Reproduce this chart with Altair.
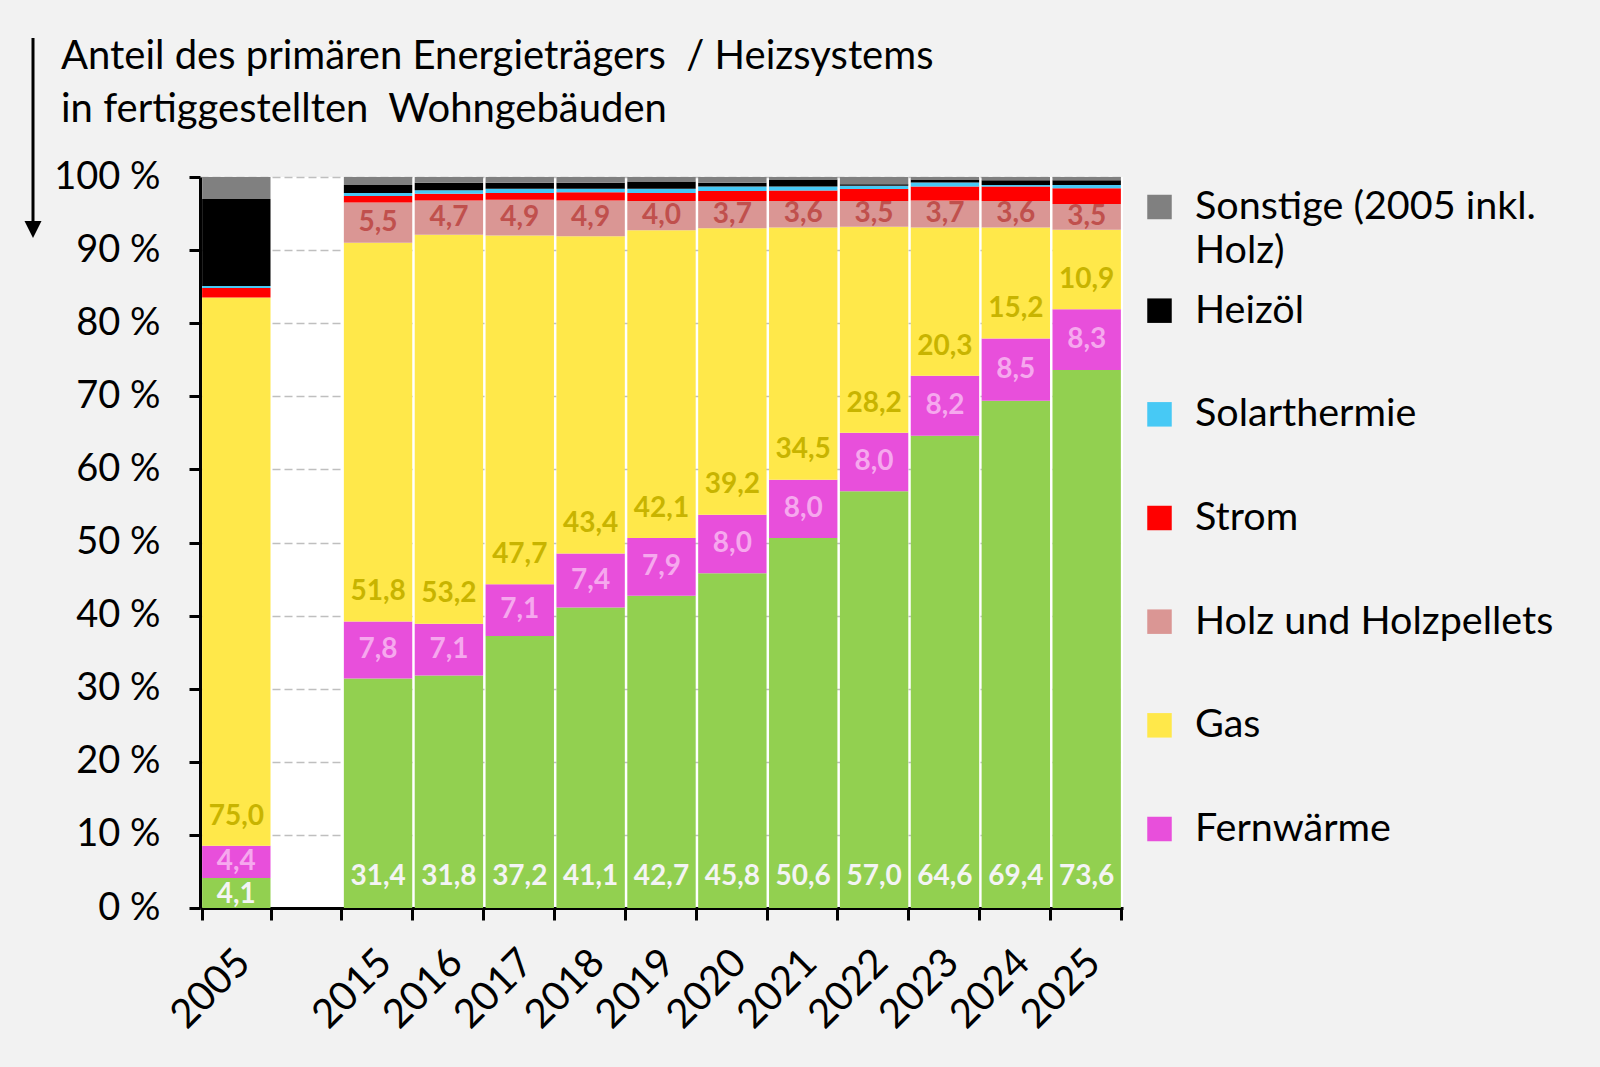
import altair as alt
import pandas as pd

# Categories on the x axis (the blank slot separates 2005 from the series from 2015)
years = ["2005", " ", "2015", "2016", "2017", "2018", "2019", "2020",
         "2021", "2022", "2023", "2024", "2025"]
bar_years = ["2005", "2015", "2016", "2017", "2018", "2019", "2020",
             "2021", "2022", "2023", "2024", "2025"]

# Stack order from bottom to top
carriers = ["Wärmepumpe", "Fernwärme", "Gas", "Holz und Holzpellets", "Strom",
            "Solarthermie", "Heizöl", "Sonstige (2005 inkl. Holz)"]
palette = ["#92d050", "#e84fdb", "#ffe84a", "#da9694", "#ff0000",
           "#47c9f5", "#000000", "#808080"]

# Shares in percent per year
waermepumpe = [4.1, 31.4, 31.8, 37.2, 41.1, 42.7, 45.8, 50.6, 57.0, 64.6, 69.4, 73.6]
fernwaerme = [4.4, 7.8, 7.1, 7.1, 7.4, 7.9, 8.0, 8.0, 8.0, 8.2, 8.5, 8.3]
gas = [75.0, 51.8, 53.2, 47.7, 43.4, 42.1, 39.2, 34.5, 28.2, 20.3, 15.2, 10.9]
holz = [0.0, 5.5, 4.7, 4.9, 4.9, 4.0, 3.7, 3.6, 3.5, 3.7, 3.6, 3.5]
strom = [1.3, 0.9, 0.9, 0.9, 1.1, 1.1, 1.4, 1.45, 1.65, 1.9, 2.0, 2.15]
solarthermie = [0.3, 0.4, 0.5, 0.6, 0.5, 0.6, 0.6, 0.55, 0.45, 0.55, 0.2, 0.45]
heizoel = [11.9, 1.1, 1.0, 0.8, 0.8, 1.0, 0.5, 0.95, 0.2, 0.4, 0.65, 0.65]
sonstige = [3.0, 1.1, 0.8, 0.8, 0.8, 0.6, 0.8, 0.35, 1.0, 0.35, 0.45, 0.45]

series = [waermepumpe, fernwaerme, gas, holz, strom, solarthermie, heizoel, sonstige]

title_lines = ["Anteil des primären Energieträgers \u00a0/ Heizsystems",
               "in fertiggestellten \u00a0Wohngebäuden"]

legend_order = ["Sonstige (2005 inkl. Holz)", "Heizöl", "Solarthermie", "Strom",
                "Holz und Holzpellets", "Gas", "Fernwärme"]
legend_line1 = ["Sonstige (2005 inkl.", "Heizöl", "Solarthermie", "Strom",
                "Holz und Holzpellets", "Gas", "Fernwärme"]
legend_line2 = ["Holz)", "", "", "", "", "", ""]

FONT = "Lato"


def de(v):
    return f"{v:.1f}".replace(".", ",")


# Long table for the stacked bars
rows = []
for k, (name, vals) in enumerate(zip(carriers, series)):
    for yr, v in zip(bar_years, vals):
        if v > 0:
            rows.append({"year": yr, "carrier": name, "value": v, "order": k})
bars_df = pd.DataFrame(rows)

# Value labels placed inside their segments
lab_rows = []
for i, yr in enumerate(bar_years):
    g, p, ga, h = waermepumpe[i], fernwaerme[i], gas[i], holz[i]
    lab_rows.append({"year": yr, "kind": "wp", "y": min(g * 0.45, 4.2), "label": de(g)})
    lab_rows.append({"year": yr, "kind": "fw", "y": g + p / 2, "label": de(p)})
    lab_rows.append({"year": yr, "kind": "gas", "y": g + p + 4.0, "label": de(ga)})
    if h > 0:
        lab_rows.append({"year": yr, "kind": "holz", "y": g + p + ga + h / 2, "label": de(h)})
lab_df = pd.DataFrame(lab_rows)

xscale = alt.Scale(domain=years, paddingInner=0.035, paddingOuter=0.03)
yscale = alt.Scale(domain=[0, 100], nice=False)
cscale = alt.Scale(domain=carriers, range=palette)

bars = alt.Chart(bars_df).mark_bar(strokeWidth=0).encode(
    x=alt.X("year:N", scale=xscale, title=None),
    y=alt.Y("value:Q", stack="zero", scale=yscale, title=None,
            axis=alt.Axis(values=list(range(0, 101, 10)),
                          labelExpr="datum.value + ' %'")),
    color=alt.Color("carrier:N", scale=cscale, legend=None),
    order=alt.Order("order:Q", sort="ascending"),
)


def value_labels(kind, colour):
    return alt.Chart(lab_df).transform_filter(
        alt.datum.kind == kind
    ).mark_text(font=FONT, fontWeight="bold", fontSize=28, color=colour,
                align="center", baseline="middle").encode(
        x=alt.X("year:N", scale=xscale, title=None),
        y=alt.Y("y:Q", scale=yscale, title=None),
        text="label:N",
    )


inner = alt.layer(
    bars,
    value_labels("wp", "#f4f4f4"),
    value_labels("fw", "#f6a8ee"),
    value_labels("gas", "#c8b400"),
    value_labels("holz", "#c0504d"),
)

# Legend drawn as squares and text next to the plot
leg_df = pd.DataFrame({"carrier": legend_order, "line1": legend_line1, "line2": legend_line2})
leg_y = alt.Y("carrier:N", scale=alt.Scale(type="point", domain=legend_order,
                                           range=[30, 652], padding=0), axis=None)
leg_sq = alt.Chart(leg_df).mark_square(size=600, opacity=1).encode(
    x=alt.value(959.5), y=leg_y,
    color=alt.Color("carrier:N", scale=cscale, legend=None),
)
leg_txt = alt.Chart(leg_df).mark_text(font=FONT, fontSize=39.5, align="left",
                                      baseline="middle", color="black").encode(
    x=alt.value(995), y=leg_y, text="line1:N",
)
leg_txt2 = alt.Chart(leg_df).transform_filter(alt.datum.line2 != "").mark_text(
    font=FONT, fontSize=39.5, align="left", baseline="middle", color="black", dy=44
).encode(x=alt.value(995), y=leg_y, text="line2:N")

# Heading and the downward arrow at the left
one = pd.DataFrame({"a": [0]})
head1 = alt.Chart(one).mark_text(text=title_lines[0], font=FONT, fontSize=40,
                                 align="left", baseline="alphabetic", color="black").encode(
    x=alt.value(-139), y=alt.value(-108))
head2 = alt.Chart(one).mark_text(text=title_lines[1], font=FONT, fontSize=40,
                                 align="left", baseline="alphabetic", color="black").encode(
    x=alt.value(-139), y=alt.value(-55))
arrow_line = alt.Chart(one).mark_rule(color="black", strokeWidth=3).encode(
    x=alt.value(-167), y=alt.value(-139), y2=alt.value(52))
arrow_head = alt.Chart(one).mark_point(shape="M-1,-1L1,-1L0,1Z", filled=True, opacity=1,
                                       size=289, color="black").encode(
    x=alt.value(-167), y=alt.value(52.5))

chart = alt.layer(
    inner, leg_sq, leg_txt, leg_txt2, head1, head2, arrow_line, arrow_head
).resolve_scale(y="independent").properties(
    width=923, height=731,
    autosize="none",
    padding={"left": 200, "top": 177, "right": 477, "bottom": 159},
    background="#f2f2f2",
).configure(font=FONT).configure_view(
    fill="white", strokeWidth=0,
).configure_axisX(
    domainColor="black", domainWidth=3, tickColor="black", tickWidth=3, tickSize=12,
    tickBand="extent", grid=False, labelAngle=-45, labelAlign="right",
    labelBaseline="middle", labelFontSize=40, labelColor="black", labelFont=FONT,
    labelPadding=36, labelOffset=7,
).configure_axisY(
    domainColor="black", domainWidth=3, tickColor="black", tickWidth=3, tickSize=11,
    grid=True, gridColor="#bfbfbf", gridDash=[8, 4], gridWidth=1.5,
    labelFontSize=38, labelColor="black", labelFont=FONT, labelPadding=29,
)

chart.save("out.html", embed_options={"renderer": "svg", "actions": False})
